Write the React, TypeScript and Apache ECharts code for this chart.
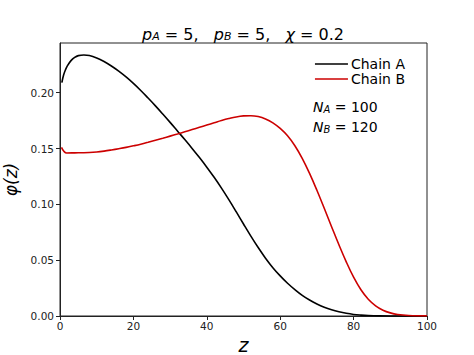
import React, { useEffect, useRef } from "react";
import * as echarts from "echarts";

const zA = [0.5, 1, 1.5, 2, 3, 4, 5, 6.5, 8, 10, 12, 14, 16, 18, 20, 22, 24, 26, 28, 30, 32, 34, 36, 38, 40, 42, 44, 46, 48, 50, 52, 54, 56, 58, 60, 62, 64, 66, 68, 70, 72, 74, 76, 78, 80, 82, 84, 87, 90, 100];
const phiA = [0.209, 0.216, 0.2205, 0.224, 0.2287, 0.2316, 0.2332, 0.2338, 0.2333, 0.2311, 0.2279, 0.2239, 0.2193, 0.2141, 0.2083, 0.202, 0.1952, 0.1882, 0.1809, 0.1734, 0.1657, 0.158, 0.1501, 0.1419, 0.1333, 0.1242, 0.1145, 0.1042, 0.0934, 0.0824, 0.0716, 0.0613, 0.0518, 0.0433, 0.0359, 0.0293, 0.0236, 0.0185, 0.0143, 0.0108, 0.0079, 0.0056, 0.0038, 0.0024, 0.0014, 0.0008, 0.0004, 0.0001, 0.0, 0.0];

const zB = [0.4, 1.8, 4, 6, 8, 10, 12, 14, 16, 18, 20, 22, 24, 26, 28, 30, 32, 34, 36, 38, 40, 42, 44, 46, 48, 50, 52, 54, 56, 58, 60, 62, 64, 66, 68, 70, 72, 74, 76, 78, 80, 82, 84, 86, 88, 90, 92, 95, 100];
const phiB = [0.151, 0.146, 0.1461, 0.1462, 0.1464, 0.1469, 0.1477, 0.1487, 0.1498, 0.151, 0.1524, 0.1539, 0.1556, 0.1574, 0.1592, 0.1611, 0.163, 0.165, 0.167, 0.169, 0.171, 0.173, 0.175, 0.1768, 0.1783, 0.1792, 0.1794, 0.1786, 0.1765, 0.173, 0.168, 0.1614, 0.1525, 0.1412, 0.1277, 0.1126, 0.0965, 0.08, 0.0638, 0.0485, 0.0348, 0.0235, 0.015, 0.0091, 0.0052, 0.0028, 0.0014, 0.0005, 0.0001];

const seriesNames = ["Chain A", "Chain B"];
const seriesColors = ["#000000", "#cc0000"];
const xTicks = { min: 0, max: 100, interval: 20 };
const yTicks = { min: 0, max: 0.2445, interval: 0.05 };

const FONT = "DejaVu Sans";

export default function App() {
  const ref = useRef<HTMLDivElement>(null);
  useEffect(() => {
    if (!ref.current) return;
    const chart = echarts.init(ref.current, null, { renderer: "svg" });
    const dataA = zA.map((z, i) => [z, phiA[i]]);
    const dataB = zB.map((z, i) => [z, phiB[i]]);
    chart.setOption({
      animation: false,
      backgroundColor: "#ffffff",
      textStyle: { fontFamily: FONT },
      grid: {
        left: 60,
        right: 47,
        top: 43,
        bottom: 39,
        containLabel: false,
        outerBoundsMode: "none",
        show: true,
        borderColor: "#222",
        borderWidth: 1,
        backgroundColor: "transparent",
      },
      xAxis: {
        type: "value",
        min: xTicks.min,
        max: xTicks.max,
        interval: xTicks.interval,
        name: "z",
        nameLocation: "middle",
        nameGap: 19,
        nameTextStyle: { fontFamily: FONT, fontSize: 19, fontStyle: "italic", color: "#000" },
        axisLine: { show: true, onZero: false, lineStyle: { color: "#222", width: 1 } },
        axisTick: { show: true, length: 4, lineStyle: { color: "#222" } },
        axisLabel: { fontFamily: FONT, fontSize: 10.5, color: "#222", margin: 4 },
        splitLine: { show: false },
      },
      yAxis: {
        type: "value",
        min: yTicks.min,
        max: yTicks.max,
        interval: yTicks.interval,
        name: "φ(z)",
        nameLocation: "middle",
        nameGap: 31,
        nameRotate: 90,
        nameTextStyle: { fontFamily: FONT, fontSize: 17, fontStyle: "italic", color: "#000" },
        axisLine: { show: true, onZero: false, lineStyle: { color: "#222", width: 1 } },
        axisTick: { show: true, length: 4, lineStyle: { color: "#222" } },
        axisLabel: {
          fontFamily: FONT,
          fontSize: 10.5,
          color: "#222",
          margin: 6,
          formatter: (v: number) => v.toFixed(2),
          showMaxLabel: false,
        },
        splitLine: { show: false },
      },
      legend: {
        data: seriesNames,
        orient: "vertical",
        right: 69,
        top: 57,
        padding: 0,
        itemGap: 1,
        itemWidth: 33,
        itemHeight: 1.5,
        icon: "rect",
        textStyle: { fontFamily: FONT, fontSize: 14, color: "#000", padding: [0, 0, 0, -2] },
      },
      graphic: [
        {
          type: "text",
          x: 243,
          y: 31,
          style: {
            text: "{i|p}{s|A}{n| = 5,   }{i|p}{s|B}{n| = 5,   }{i|χ}{n| = 0.2}",
            align: "center",
            verticalAlign: "middle",
            fill: "#000",
            rich: {
              i: { fontFamily: FONT, fontSize: 16, fontStyle: "italic", lineHeight: 22, verticalAlign: "bottom", fill: "#000" },
              n: { fontFamily: FONT, fontSize: 16, lineHeight: 22, verticalAlign: "bottom", fill: "#000" },
              s: { fontFamily: FONT, fontSize: 11, fontStyle: "italic", lineHeight: 10, verticalAlign: "bottom", fill: "#000" },
            },
          },
        },
        {
          type: "text",
          x: 313,
          y: 104,
          style: {
            text: "{i|N}{s|A}{n| = 100}",
            verticalAlign: "middle",
            rich: {
              i: { fontFamily: FONT, fontSize: 14, fontStyle: "italic", lineHeight: 20, verticalAlign: "bottom", fill: "#000" },
              n: { fontFamily: FONT, fontSize: 14, lineHeight: 20, verticalAlign: "bottom", fill: "#000" },
              s: { fontFamily: FONT, fontSize: 10, fontStyle: "italic", lineHeight: 9, verticalAlign: "bottom", fill: "#000" },
            },
          },
        },
        {
          type: "text",
          x: 313,
          y: 124,
          style: {
            text: "{i|N}{s|B}{n| = 120}",
            verticalAlign: "middle",
            rich: {
              i: { fontFamily: FONT, fontSize: 14, fontStyle: "italic", lineHeight: 20, verticalAlign: "bottom", fill: "#000" },
              n: { fontFamily: FONT, fontSize: 14, lineHeight: 20, verticalAlign: "bottom", fill: "#000" },
              s: { fontFamily: FONT, fontSize: 10, fontStyle: "italic", lineHeight: 9, verticalAlign: "bottom", fill: "#000" },
            },
          },
        },
      ],
      series: [
        {
          name: seriesNames[0],
          type: "line",
          data: dataA,
          smooth: 0.4,
          showSymbol: false,
          color: seriesColors[0],
          lineStyle: { width: 1.6, color: seriesColors[0] },
        },
        {
          name: seriesNames[1],
          type: "line",
          data: dataB,
          smooth: 0.4,
          showSymbol: false,
          color: seriesColors[1],
          lineStyle: { width: 1.6, color: seriesColors[1] },
        },
      ],
    });
    return () => chart.dispose();
  }, []);
  return <div ref={ref} style={{ width: 474, height: 355, position: "absolute", left: 0, top: 0 }} />;
}
